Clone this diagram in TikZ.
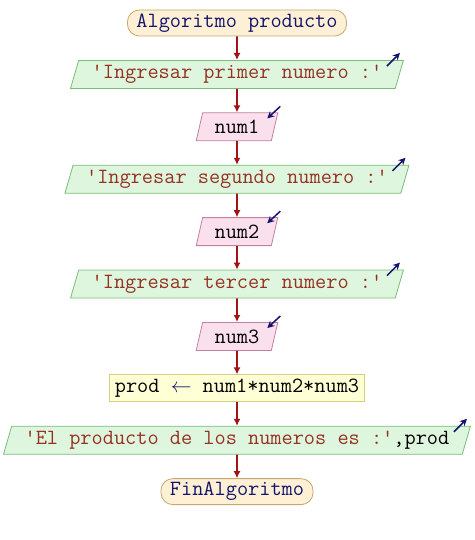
\documentclass[tikz,border=0pt]{standalone}
\usepackage{xcolor}
\usepackage{tikz}
\usetikzlibrary{arrows.meta,positioning,calc,shapes.geometric}
\definecolor{termfill}{RGB}{253,240,212}
\definecolor{termdraw}{RGB}{196,168,112}
\definecolor{outfill}{RGB}{222,245,222}
\definecolor{outdraw}{RGB}{120,190,120}
\definecolor{infill}{RGB}{250,224,236}
\definecolor{indraw}{RGB}{196,128,160}
\definecolor{procfill}{RGB}{255,255,214}
\definecolor{procdraw}{RGB}{214,206,130}
\definecolor{flowred}{RGB}{160,20,20}
\definecolor{navy}{RGB}{20,20,110}
\definecolor{strred}{RGB}{150,50,35}

\begin{document}
\begin{tikzpicture}[x=1pt, y=1pt, node distance=23.6pt,
    font=\ttfamily\fontsize{21.7}{24}\selectfont]
    \tikzstyle{term}=[draw=termdraw, fill=termfill, rounded corners=12pt, minimum height=26pt, inner xsep=9pt, text=navy, line width=0.8pt]
    \tikzstyle{outbox}=[trapezium, trapezium stretches body, trapezium left angle=70, trapezium right angle=110, draw=outdraw, fill=outfill, minimum height=28pt, inner xsep=13pt, inner ysep=2pt, text=strred, line width=0.8pt]
    \tikzstyle{inbox}=[trapezium, trapezium stretches body, trapezium left angle=70, trapezium right angle=110, draw=indraw, fill=infill, minimum height=28pt, inner xsep=12pt, inner ysep=2pt, line width=0.8pt]
    \tikzstyle{proc}=[draw=procdraw, fill=procfill, minimum height=27pt, inner xsep=5pt, line width=0.8pt]
    \tikzstyle{flow}=[draw=flowred, line width=1.8pt, -{Latex[length=7pt,width=7pt]}]
    \tikzstyle{outmark}=[draw=navy, fill=navy, line width=1.5pt, -{Stealth[length=7pt,width=7pt]}]
    \useasboundingbox (-237,23) rectangle (237,-517);
    \node[term] (start) at (0,0) {Algoritmo producto};
    \node[outbox, below=of start] (msg1) {'Ingresar primer numero :'};
    \node[inbox, below=of msg1] (num1) {num1};
    \node[outbox, below=of num1] (msg2) {'Ingresar segundo numero :'};
    \node[inbox, below=of msg2] (num2) {num2};
    \node[outbox, below=of num2] (msg3) {'Ingresar tercer numero :'};
    \node[inbox, below=of msg3] (num3) {num3};
    \node[proc, below=of num3] (calc) {prod \textcolor{navy}{$\leftarrow$} num1*num2*num3};
    \node[outbox, below=of calc] (msg4) {'El producto de los numeros es :'\textcolor{black}{,prod}};
    \node[term, below=of msg4] (finish) {FinAlgoritmo};
    \draw[flow] (start) -- (msg1);
    \draw[flow] (msg1) -- (num1);
    \draw[flow] (num1) -- (msg2);
    \draw[flow] (msg2) -- (num2);
    \draw[flow] (num2) -- (msg3);
    \draw[flow] (msg3) -- (num3);
    \draw[flow] (num3) -- (calc);
    \draw[flow] (calc) -- (msg4);
    \draw[flow] (msg4) -- (finish);
    % output / input marks
    \foreach \o in {msg1,msg2,msg3,msg4}
      \draw[outmark] ($(\o.top right corner)+(-17,-6)$) -- ++(13,13);
    \foreach \i in {num1,num2,num3}
      \draw[outmark] ($(\i.top right corner)+(2,6)$) -- ++(-13,-12);
  \end{tikzpicture}
\end{document}
